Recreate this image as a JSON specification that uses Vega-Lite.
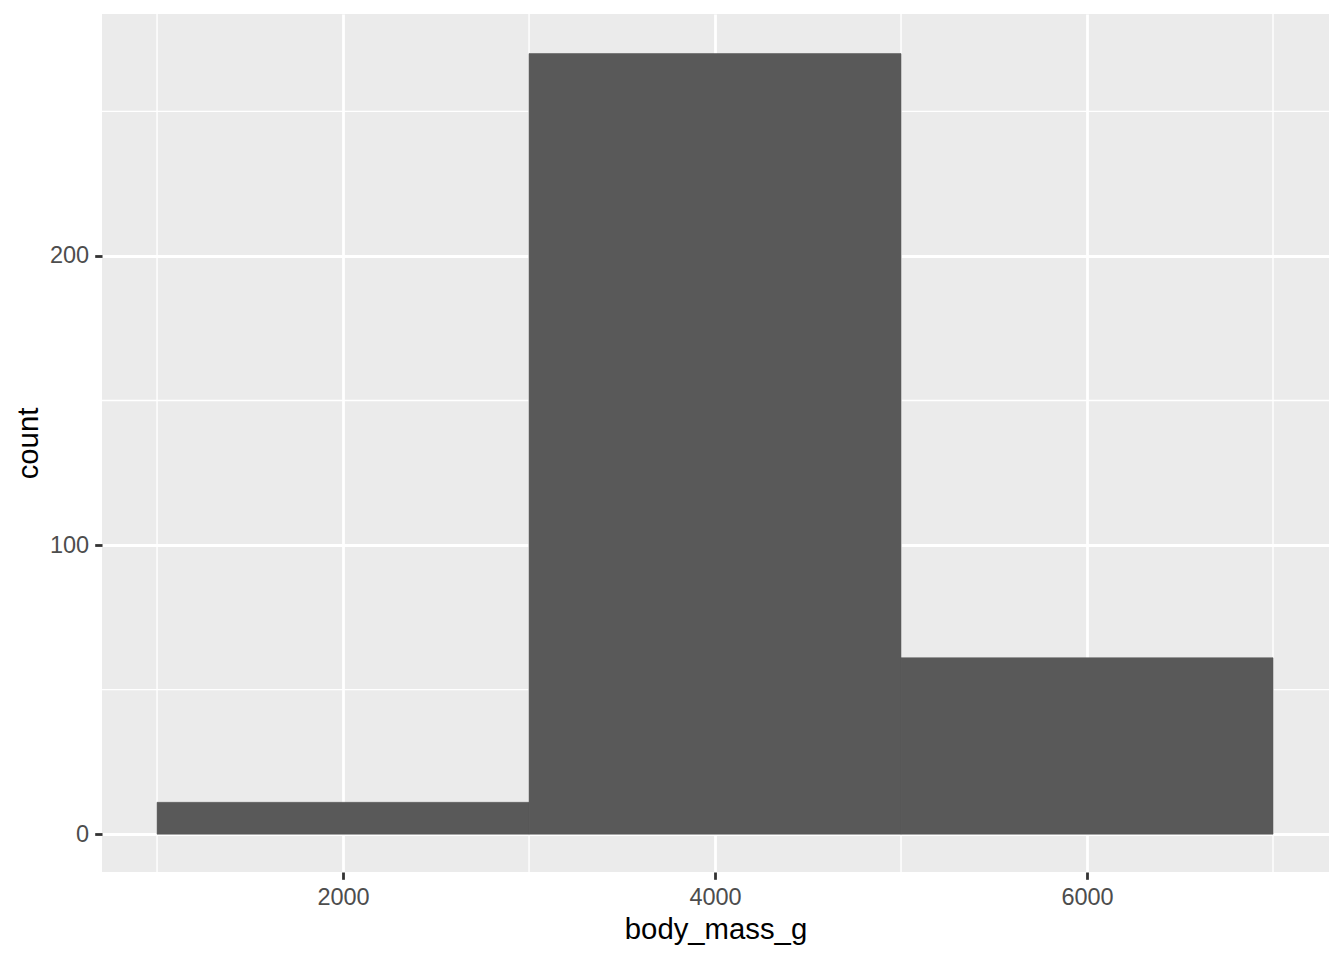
{
  "$schema": "https://vega.github.io/schema/vega-lite/v6.json",
  "width": 1227,
  "height": 858,
  "autosize": "none",
  "padding": {"left": 102, "top": 14, "right": 15, "bottom": 88},
  "background": "white",
  "config": {
    "view": {"fill": "#EBEBEB", "stroke": null},
    "axis": {
      "domain": false,
      "grid": true,
      "gridColor": "white",
      "gridWidth": 2.8,
      "tickColor": "#333333",
      "tickWidth": 2.8,
      "tickSize": 7.3,
      "labelColor": "#4D4D4D",
      "labelFont": "Liberation Sans",
      "labelFontSize": 23.5,
      "labelPadding": 6,
      "format": "d",
      "titleFont": "Liberation Sans",
      "titleFontSize": 29.3,
      "titleFontWeight": "normal",
      "titleColor": "black"
    }
  },
  "layer": [
    {
      "data": {"values": [{"mass": 1000}, {"mass": 3000}, {"mass": 5000}, {"mass": 7000}]},
      "mark": {"type": "rule", "color": "white", "strokeWidth": 1.4},
      "encoding": {
        "x": {"field": "mass", "type": "quantitative", "title": "body_mass_g",
              "scale": {"domain": [704, 7301], "nice": false, "zero": false},
              "axis": {"values": [2000, 4000, 6000], "titlePadding": 7}}
      }
    },
    {
      "data": {"values": [{"count": 50}, {"count": 150}, {"count": 250}]},
      "mark": {"type": "rule", "color": "white", "strokeWidth": 1.4},
      "encoding": {
        "y": {"field": "count", "type": "quantitative", "title": "count",
              "scale": {"domain": [-13.1, 283.7], "nice": false, "zero": false},
              "axis": {"values": [0, 100, 200], "titlePadding": 6, "labelPadding": 6}}
      }
    },
    {
      "data": {
        "values": [
          {"mass": 1000, "mass_end": 3000, "count": 11},
          {"mass": 3000, "mass_end": 5000, "count": 270},
          {"mass": 5000, "mass_end": 7000, "count": 61}
        ]
      },
      "mark": {"type": "rect", "color": "#595959", "stroke": "#595959", "strokeWidth": 0.6, "opacity": 1},
      "encoding": {
        "x": {"field": "mass", "type": "quantitative", "title": "body_mass_g",
              "axis": {"values": [2000, 4000, 6000], "titlePadding": 7}},
        "x2": {"field": "mass_end"},
        "y": {"field": "count", "type": "quantitative", "title": "count",
              "axis": {"values": [0, 100, 200], "titlePadding": 6, "labelPadding": 6}},
        "y2": {"datum": 0}
      }
    }
  ]
}
